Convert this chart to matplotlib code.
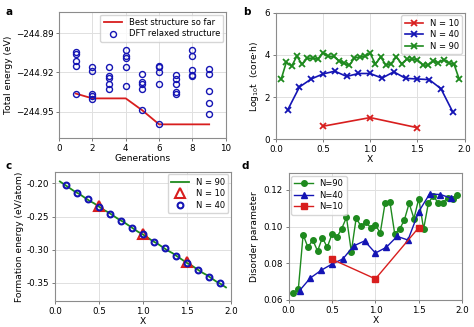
import matplotlib
matplotlib.use("Agg")
import matplotlib.pyplot as plt
import numpy as np

RED = '#d81e1e'
BLUE = '#1414b4'
GREEN = '#1e8a1e'

# (a) energies of relaxed structures per generation
generations = [1, 2, 3, 4, 5, 6, 7, 8, 9]
dft_energy = [
    [-244.9044, -244.9057, -244.9115, -244.9148, -244.9361],
    [-244.9161, -244.9191, -244.9361, -244.9376, -244.9401],
    [-244.9158, -244.9224, -244.9242, -244.9287, -244.9330],
    [-244.9027, -244.9072, -244.9090, -244.9161, -244.9305],
    [-244.9209, -244.9275, -244.9292, -244.9330, -244.9490],
    [-244.9148, -244.9161, -244.9199, -244.9292, -244.9596],
    [-244.9217, -244.9249, -244.9292, -244.9351, -244.9363],
    [-244.9027, -244.9077, -244.9184, -244.9217, -244.9229],
    [-244.9173, -244.9211, -244.9343, -244.9432, -244.9520],
]
best_energy = [-244.9361, -244.9398, -244.9398, -244.9398, -244.9490,
               -244.9596, -244.9596, -244.9596, -244.9596]

# compositions for the three cell sizes
x10 = [0.5, 1.0, 1.5]
x40 = [k / 8 for k in range(1, 16)]
x90 = [k / 18 for k in range(1, 36)]

# (b) log10 cost in core-hours
cost10 = [0.62, 1.03, 0.55]
cost40 = [1.39, 2.48, 2.86, 3.10, 3.23, 2.98, 3.12, 3.12, 2.90, 3.20,
          2.89, 2.86, 2.83, 2.40, 1.30]
cost90 = [2.84, 3.66, 3.46, 3.94, 3.55, 3.85, 3.84, 3.80, 4.11, 3.93,
          3.93, 3.73, 3.60, 3.50, 3.86, 3.90, 3.93, 4.07, 3.57, 3.90,
          3.52, 3.59, 3.91, 3.58, 3.80, 3.79, 3.78, 3.53, 3.51, 3.71,
          3.63, 3.78, 3.61, 3.56, 2.84]

# (c) formation energies
form10 = [-0.234, -0.276, -0.318]
form40 = [-0.203, -0.214, -0.224, -0.235, -0.246, -0.256, -0.267, -0.277,
          -0.288, -0.298, -0.309, -0.320, -0.330, -0.341, -0.351]
form90 = [-0.197, -0.202, -0.207, -0.212, -0.216, -0.221, -0.226, -0.230,
          -0.235, -0.240, -0.244, -0.249, -0.254, -0.258, -0.263, -0.268,
          -0.273, -0.277, -0.282, -0.287, -0.291, -0.296, -0.301, -0.305,
          -0.310, -0.315, -0.320, -0.324, -0.329, -0.334, -0.338, -0.343,
          -0.348, -0.352, -0.357]

# (d) disorder parameter
dis10 = [0.0822, 0.0715, 0.0995]
dis40 = [0.0651, 0.0720, 0.0762, 0.0796, 0.0824, 0.0895, 0.0922, 0.0856,
         0.0887, 0.0947, 0.0927, 0.1082, 0.1178, 0.1175, 0.1155]
dis90 = [0.0636, 0.0658, 0.0956, 0.0887, 0.0927, 0.0867, 0.0940, 0.0887,
         0.0960, 0.0942, 0.0989, 0.1050, 0.0864, 0.1045, 0.1004, 0.1024,
         0.0995, 0.1010, 0.0965, 0.1127, 0.1136, 0.0962, 0.0985, 0.1036,
         0.1127, 0.1044, 0.1153, 0.0987, 0.1129, 0.1167, 0.1131, 0.1131,
         0.1158, 0.1149, 0.1175]

plt.rcParams['font.family'] = 'DejaVu Sans'
plt.rcParams['font.size'] = 6.3

fig = plt.figure(figsize=(4.74, 3.27), dpi=100)
ax_a = fig.add_axes([0.1245, 0.578, 0.352, 0.385])
ax_b = fig.add_axes([0.582, 0.574, 0.398, 0.387])
ax_c = fig.add_axes([0.116, 0.0795, 0.371, 0.395])
ax_d = fig.add_axes([0.609, 0.0826, 0.366, 0.387])

for ax in (ax_a, ax_b, ax_c, ax_d):
    ax.grid(True, color='0.88', linewidth=0.7)
    ax.set_axisbelow(True)
    for s in ax.spines.values():
        s.set_color('0.55')
        s.set_linewidth(0.8)
    ax.tick_params(labelsize=6.3, length=2.5, width=0.6, color='0.4', pad=1.5)

# a
ax_a.plot(generations, best_energy, color=RED, lw=1.3, label='Best structure so far')
gx = [g for g, vals in zip(generations, dft_energy) for _ in vals]
gy = [v for vals in dft_energy for v in vals]
ax_a.plot(gx, gy, 'o', ms=4.3, mfc='none', mec=BLUE, mew=1.0,
          label='DFT relaxed structure')
ax_a.set_xlim(0, 10)
ax_a.set_ylim(-244.970, -244.874)
ax_a.set_xticks([0, 2, 4, 6, 8, 10])
ax_a.set_yticks([-244.89, -244.92, -244.95])
ax_a.ticklabel_format(axis='y', useOffset=False)
ax_a.set_xlabel('Generations', fontsize=6.6, labelpad=1)
ax_a.set_ylabel('Total energy (eV)', fontsize=6.6, labelpad=2)
ax_a.legend(loc='upper right', fontsize=6, handlelength=2.2, borderpad=0.4,
            labelspacing=0.3, borderaxespad=0.3)

# b
ax_b.plot(x10, cost10, '-x', color=RED, lw=1.2, ms=4.5, mew=1.3, label='N = 10')
ax_b.plot(x40, cost40, '-x', color=BLUE, lw=1.2, ms=4.5, mew=1.3, label='N = 40')
ax_b.plot(x90, cost90, '-x', color=GREEN, lw=1.2, ms=4.5, mew=1.3, label='N = 90')
ax_b.set_xlim(0, 2)
ax_b.set_ylim(0, 6)
ax_b.set_yticks([0, 2, 4, 6])
ax_b.set_xlabel('X', fontsize=6.6, labelpad=1)
ax_b.set_ylabel(r'Log$_{10}$t  (core$\cdot$h)', fontsize=6.6, labelpad=3)
ax_b.legend(loc='upper right', fontsize=6, handlelength=2.2, borderpad=0.4,
            labelspacing=0.3, borderaxespad=0.3)

# c
ax_c.plot(x90, form90, color=GREEN, lw=1.3, label='N = 90')
ax_c.plot(x10, form10, '^', ms=7.5, mfc='none', mec=RED, mew=1.5, label='N = 10')
ax_c.plot(x40, form40, 'o', ms=4.2, mfc='none', mec=BLUE, mew=1.5, label='N = 40')
ax_c.set_xlim(0, 2)
ax_c.set_ylim(-0.3775, -0.1825)
ax_c.set_yticks([-0.20, -0.25, -0.30, -0.35])
ax_c.yaxis.set_major_formatter(matplotlib.ticker.FormatStrFormatter('%.2f'))
ax_c.set_xlabel('X', fontsize=6.6, labelpad=1)
ax_c.set_ylabel('Formation energy (eV/atom)', fontsize=6.6, labelpad=2)
ax_c.legend(loc='upper right', fontsize=6, handlelength=2.2, borderpad=0.4,
            labelspacing=0.3, borderaxespad=0.3)

# d
ax_d.plot(x90, dis90, '-o', color=GREEN, mfc=GREEN, mec=GREEN, lw=1.0, ms=4,
          label='N=90')
ax_d.plot(x40, dis40, '-^', color=BLUE, lw=1.0, ms=4, label='N=40')
ax_d.plot(x10, dis10, '-s', color=RED, lw=1.0, ms=4, label='N=10')
ax_d.set_xlim(0, 2)
ax_d.set_ylim(0.06, 0.129)
ax_d.set_yticks([0.06, 0.08, 0.10, 0.12])
ax_d.yaxis.set_major_formatter(matplotlib.ticker.FormatStrFormatter('%.2f'))
ax_d.set_xlabel('X', fontsize=6.6, labelpad=1)
ax_d.set_ylabel('Disorder parameter', fontsize=6.6, labelpad=3)
ax_d.legend(loc='upper left', fontsize=6, handlelength=2.2, borderpad=0.4,
            labelspacing=0.3, borderaxespad=0.3)

for lbl, (px, py) in zip('abcd', [(5, 12), (243, 12), (5, 166), (242, 166)]):
    fig.text(px / 474, 1 - py / 327, lbl, fontsize=7.5, fontweight='bold',
             ha='left', va='center')

fig.savefig('out.png', dpi=100)
